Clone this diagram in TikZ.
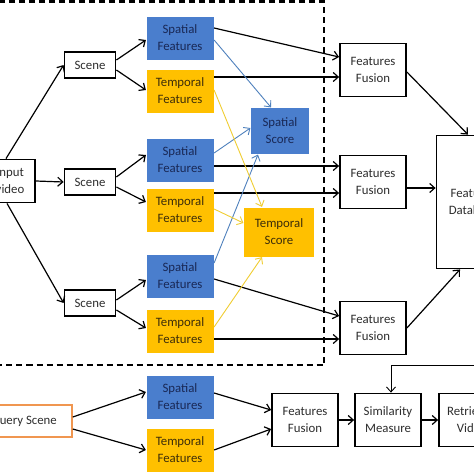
\documentclass[tikz,border=0pt]{standalone}
\usepackage{fontspec}
\setmainfont{Carlito}
\usetikzlibrary{arrows.meta}

\definecolor{spblue}{RGB}{74,126,205}
\definecolor{tpgold}{RGB}{255,192,0}
\definecolor{spline}{RGB}{79,129,189}
\definecolor{tpline}{RGB}{240,205,50}
\definecolor{qorange}{RGB}{240,150,80}
\definecolor{sptext}{RGB}{25,40,85}
\definecolor{tptext}{RGB}{60,45,10}
\definecolor{boxtext}{RGB}{45,45,45}

\begin{document}
\begin{tikzpicture}[x=1pt,y=-1pt,line width=1.2pt,>={Straight Barb[length=5pt,width=9pt]},
  font=\fontsize{12.8}{17}\selectfont,
  box/.style={draw,line width=1.8pt,fill=white,text=boxtext,align=center,inner sep=0pt},
  spat/.style={fill=spblue,text=sptext,align=center,minimum width=67pt,minimum height=43pt,inner sep=0pt},
  temp/.style={fill=tpgold,text=tptext,align=center,minimum width=67pt,minimum height=43pt,inner sep=0pt},
  fuse/.style={box,minimum width=66pt,minimum height=53pt},
  scn/.style={box,minimum width=51pt,minimum height=26pt},
  bline/.style={->,line width=0.9pt,spline},
  yline/.style={->,line width=0.9pt,tpline},
  dashbox/.style={line width=2.5pt,dash pattern=on 6pt off 4pt}]
\useasboundingbox (0,0) rectangle (474,474);
\fill[white] (0,0) rectangle (474,474);
\clip (0,0) rectangle (474,474);
% ---------- 在线处理部分 ----------
\draw[dashbox] (-10,1.5) rectangle (324,365);
\node[box,minimum width=50pt,minimum height=43pt] (input) at (10,181) {Input\\video};
\foreach \y/\n in {65/1,182/2,303/3}
  \node[scn] (scene\n) at (90,\y) {Scene};
\foreach \y/\n in {38/sp1,160/sp2,276/sp3,397/qsp}
  \node[spat] (\n) at (180,\y) {Spatial\\Features};
\foreach \y/\n in {91/tp1,210/tp2,331/tp3,450/qtp}
  \node[temp] (\n) at (180,\y) {Temporal\\Features};
\node[spat,minimum width=58pt,minimum height=46pt] (spscore) at (280,131) {Spatial\\Score};
\node[temp,minimum width=70pt,minimum height=49pt] (tpscore) at (279,232) {Temporal\\Score};
\foreach \x/\y/\n in {373/70/ff1,373/182/ff2,373/328/ff3,305/420/qff}
  \node[fuse] (\n) at (\x,\y) {Features\\Fusion};
\node[box,minimum width=73pt,minimum height=133pt] (db) at (473,202) {Features\\Database};
% ---------- 查询部分 ----------
\node[box,draw=qorange,line width=1.5pt,minimum width=96pt,minimum height=32pt] (qscene) at (24,421) {Query Scene};
\node[fuse] (sim) at (388,420) {Similarity\\Measure};
\node[fuse] (ret) at (472,420) {Retrieved\\Video};
\coordinate (fb) at (530,365);
% 视频 -> 场景 -> 特征
\draw[->] ([xshift=-4pt]input.north) -- (scene1.west);
\draw[->] (input.east) -- (scene2.west);
\draw[->] ([xshift=-3pt]input.south) -- (scene3.west);
\draw[->] ([yshift=5pt]scene1.east) -- ([yshift=-2pt]sp1.west);
\draw[->] ([yshift=-5pt]scene1.east) -- ([yshift=1pt]tp1.west);
\draw[->] ([yshift=5pt]scene2.east) -- ([yshift=5pt]sp2.west);
\draw[->] ([yshift=-5pt]scene2.east) -- ([yshift=8pt]tp2.west);
\draw[->] ([yshift=3pt]scene3.east) -- ([yshift=-4pt]sp3.west);
\draw[->] ([yshift=-7pt]scene3.east) -- ([yshift=3pt]tp3.west);
\draw[->] ([yshift=4pt]qscene.east) -- ([yshift=5pt]qsp.west);
\draw[->] ([yshift=-8pt]qscene.east) -- (qtp.west);
% 特征 -> 融合
\draw[->] ([yshift=10pt]sp1.east) -- ([yshift=13pt]ff1.west);
\draw[->] ([yshift=14pt]tp1.east) -- ([yshift=-7pt]ff1.west);
\draw[->] ([yshift=-6pt]sp2.east) -- ([yshift=16pt]ff2.west);
\draw[->] ([yshift=17pt]tp2.east) -- ([yshift=-11pt]ff2.west);
\draw[->] ([yshift=-3pt]sp3.east) -- ([yshift=12pt]ff3.west);
\draw[->] ([yshift=-8pt]tp3.east) -- ([yshift=-11pt]ff3.west);
\draw[->] ([yshift=4pt]qsp.east) -- ([yshift=10pt]qff.west);
\draw[->] (qtp.east) -- ([yshift=-9pt]qff.west);
% 融合 -> 数据库, 检索
\draw[->] ([yshift=-2pt]ff1.east) -- ([xshift=-5pt]db.north);
\draw[->] ([yshift=-6pt]ff2.east) -- ([yshift=14pt]db.west);
\draw[->] (ff3.east) -- ([xshift=-13pt]db.south);
\draw[->] (qff.east) -- (sim.west);
\draw[->] (sim.east) -- (ret.west);
\draw[->,line width=0.9pt] (db.east) -| (fb) -| ([xshift=3pt]sim.north);
% 得分（彩色细线）
\draw[bline] ([yshift=-2pt]sp1.east) -- ([xshift=-9pt]spscore.north);
\draw[bline] ([yshift=7pt]sp2.east) -- ([yshift=3pt]spscore.west);
\draw[bline] ([yshift=13pt]sp3.east) -- ([xshift=-22pt]spscore.south);
\draw[yline] ([yshift=1pt]tp1.east) -- ([xshift=-17pt]tpscore.north);
\draw[yline] ([yshift=1pt]tp2.east) -- ([yshift=9pt]tpscore.west);
\draw[yline] ([yshift=4pt]tp3.east) -- ([xshift=-17pt]tpscore.south);
\end{tikzpicture}
\end{document}
